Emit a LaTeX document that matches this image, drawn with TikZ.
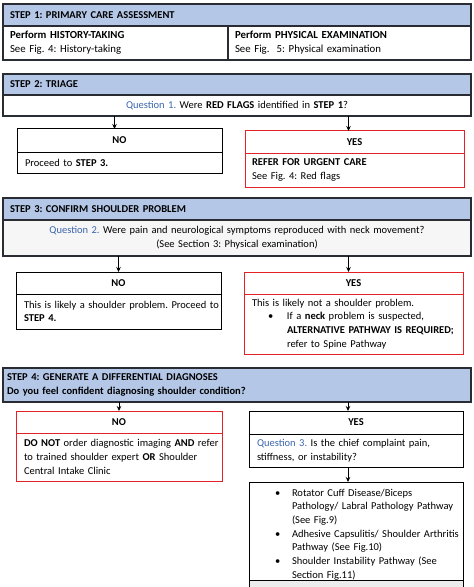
\documentclass[tikz,border=0pt]{standalone}
\usepackage{fontspec}
\setmainfont{Carlito}
\usetikzlibrary{positioning,arrows.meta}
\definecolor{headblue}{RGB}{180,199,231}
\definecolor{stepline}{RGB}{42,44,52}
\definecolor{flagred}{RGB}{226,34,38}
\definecolor{qblue}{RGB}{59,100,173}
\definecolor{qgrey}{RGB}{246,246,246}
\definecolor{stripgrey}{RGB}{236,236,236}
\newcommand{\boxfont}{\frenchspacing\fontsize{10.5bp}{13.7bp}\selectfont}
\newcommand{\bigboxfont}{\frenchspacing\fontsize{10.8bp}{13.7bp}\selectfont}
\begin{document}
\begin{tikzpicture}[x=1bp, y=-1bp, font=\boxfont, line join=miter, >={Stealth[length=5bp,width=4.5bp]}]
	\tikzset{box/.style={draw=black, line width=1bp, inner xsep=7bp, inner ysep=1bp, outer sep=0pt, align=left, anchor=north west},
		stepbox/.style={box, draw=stepline, line width=1.6bp},
		head/.style={stepbox, fill=headblue, font=\boxfont\bfseries},
		redbox/.style={box, draw=flagred},
		ansh/.style={align=center, font=\boxfont\bfseries},
		arr/.style={->, line width=1bp}}
	\useasboundingbox (0,0) rectangle (474,587);
	% step 1
	\node[head, minimum width=468bp, minimum height=22bp, text width=454bp] (s1) at (3,4) {STEP 1: PRIMARY CARE ASSESSMENT};
	\node[stepbox, font=\bigboxfont, below right=0pt and 0pt of s1.south west, minimum width=225bp, minimum height=34bp, text width=211bp] (b1l) {\textbf{Perform HISTORY-TAKING}\\See Fig. 4: History-taking};
	\node[stepbox, font=\bigboxfont, right=0pt of b1l, minimum width=243bp, minimum height=34bp, text width=229bp] (b1r) {\textbf{Perform PHYSICAL EXAMINATION}\\See Fig.\ \ 5: Physical examination};
	% step 2
	\node[head, minimum width=468bp, minimum height=21bp, text width=454bp] (s2) at (3,74) {STEP 2: TRIAGE};
	\node[stepbox, below right=0pt and 0pt of s2.south west, minimum width=468bp, minimum height=21bp, text width=454bp, align=center] (q1) {\textcolor{qblue}{Question 1.} Were \textbf{RED FLAGS} identified in \textbf{STEP 1}?};
	\node[box, ansh, minimum width=205bp, minimum height=23bp, text width=191bp] (no2h) at (17,129) {NO};
	\node[box, below right=0pt and 0pt of no2h.south west, minimum width=205bp, minimum height=21bp, text width=189bp, inner xsep=8bp] (no2b) {Proceed to \textbf{STEP 3.}};
	\node[redbox, ansh, minimum width=219bp, minimum height=22bp, text width=205bp] (yes2h) at (245,131) {YES};
	\node[redbox, below right=0pt and 0pt of yes2h.south west, minimum width=219bp, minimum height=34bp, text width=205bp] (yes2b) {\textbf{REFER FOR URGENT CARE}\\See Fig. 4: Red flags};
	\draw[arr] ([xshift=-5bp]no2h.north |- q1.south) -- ([xshift=-5bp]no2h.north);
	\draw[arr] ([xshift=-6bp]yes2h.north |- q1.south) -- ([xshift=-6bp]yes2h.north);
	% step 3
	\node[head, minimum width=468bp, minimum height=22bp, text width=454bp] (s3) at (3,198) {STEP 3: CONFIRM SHOULDER PROBLEM};
	\node[stepbox, below right=0pt and 0pt of s3.south west, fill=qgrey, minimum width=468bp, minimum height=36bp, text width=454bp, align=center] (q2) {\textcolor{qblue}{Question 2.} Were pain and neurological symptoms reproduced with neck movement?\\(See Section 3: Physical examination)};
	\node[box, ansh, minimum width=205bp, minimum height=22bp, text width=191bp] (no3h) at (16,272) {NO};
	\node[box, below right=0pt and 0pt of no3h.south west, minimum width=205bp, minimum height=35bp, text width=189bp, inner xsep=8bp] (no3b) {\mbox{This is likely a shoulder problem. Proceed to}\\\textbf{STEP 4.}};
	\node[redbox, ansh, minimum width=219bp, minimum height=22bp, text width=205bp] (yes3h) at (244,272) {YES};
	\node[redbox, below right=0pt and 0pt of yes3h.south west, minimum width=219bp, minimum height=60bp, text width=203bp, inner xsep=8bp] (yes3b) {\begin{tabular}{@{}l@{}}
		This is likely not a shoulder problem.\\
		\hspace*{16bp}\makebox[19bp][l]{\textbullet}If a \textbf{neck} problem is suspected,\\
		\hspace*{35bp}\textbf{ALTERNATIVE PATHWAY IS REQUIRED;}\\
		\hspace*{35bp}refer to Spine Pathway
	\end{tabular}};
	\draw[arr] (no3h.north |- q2.south) -- (no3h.north);
	\draw[arr] ([xshift=-5bp]yes3h.north |- q2.south) -- ([xshift=-5bp]yes3h.north);
	% step 4
	\node[head, minimum width=468bp, minimum height=34bp, text width=460bp, inner xsep=4bp] (s4) at (3,368) {STEP 4: GENERATE A DIFFERENTIAL DIAGNOSES\\Do you feel confident diagnosing shoulder condition?};
	\node[redbox, ansh, minimum width=206bp, minimum height=22bp, text width=192bp] (no4h) at (16,411) {NO};
	\node[redbox, below right=0pt and 0pt of no4h.south west, minimum width=206bp, minimum height=48bp, text width=190bp, inner xsep=8bp] (no4b) {\mbox{\textbf{DO NOT} order diagnostic imaging \textbf{AND} refer}\\to trained shoulder expert \textbf{OR} Shoulder\\Central Intake Clinic};
	\node[box, ansh, minimum width=214bp, minimum height=23bp, text width=200bp] (yes4h) at (249,411) {YES};
	\node[box, below right=0pt and 0pt of yes4h.south west, minimum width=214bp, minimum height=33bp, text width=198bp, inner xsep=8bp] (yes4b) {\textcolor{qblue}{Question 3.} Is the chief complaint pain,\\stiffness, or instability?};
	\node[box, minimum width=214bp, minimum height=105bp, text width=206bp, inner xsep=4bp] (fin) at (249,482) {\begin{tabular}{@{}l@{}}
		\hspace*{22bp}\makebox[17bp][l]{\textbullet}Rotator Cuff Disease/Biceps\\
		\hspace*{39bp}Pathology/ Labral Pathology Pathway\\
		\hspace*{39bp}(See Fig.9)\\
		\hspace*{22bp}\makebox[17bp][l]{\textbullet}Adhesive Capsulitis/ Shoulder Arthritis\\
		\hspace*{39bp}Pathway (See Fig.10)\\
		\hspace*{22bp}\makebox[17bp][l]{\textbullet}Shoulder Instability Pathway (See\\
		\hspace*{39bp}Section Fig.11)
	\end{tabular}};
	\node[box, fill=stripgrey, below right=0pt and 0pt of fin.south west, yshift=7bp, minimum width=214bp, minimum height=14bp] (finb) {};
	\draw[arr] (no4h.north |- s4.south) -- (no4h.north);
	\draw[arr] ([xshift=-8bp]yes4h.north |- s4.south) -- ([xshift=-8bp]yes4h.north);
	\draw[arr] ([xshift=-8bp]yes4b.south) -- ([xshift=-8bp]fin.north);
\end{tikzpicture}
\end{document}
